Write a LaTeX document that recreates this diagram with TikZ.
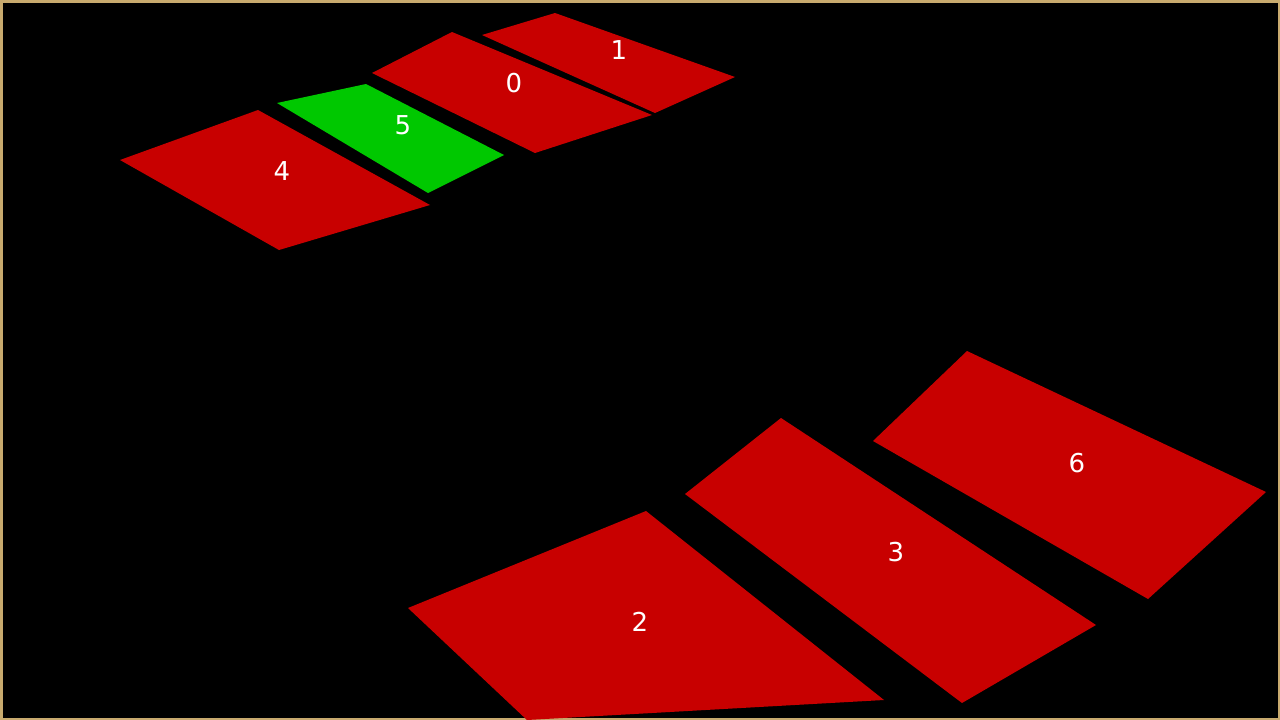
\documentclass[tikz,border=0pt]{standalone}
\usepackage{fontspec}
\setmainfont{DejaVu Sans}
\definecolor{pred}{RGB}{200,0,0}
\definecolor{pgreen}{RGB}{0,200,0}
\definecolor{frame}{RGB}{200,170,110}
\begin{document}
\begin{tikzpicture}[x=1pt,y=-1pt,
  red/.style={fill=pred,draw=none},
  grn/.style={fill=pgreen,draw=none},
  lab/.style={text=white,font=\fontsize{26}{26}\selectfont}]
\fill[black] (0,0) rectangle (1280,720);
\useasboundingbox (0,0) rectangle (1280,720);
\draw[frame,line width=3pt] (1,1) rectangle (1279,719);
\fill[red] (482,35) -- (555,13) -- (735,77) -- (655,113) -- cycle;
\fill[red] (372,73) -- (452,32) -- (652,115) -- (535,153) -- cycle;
\fill[grn] (277,103) -- (366,84) -- (504,155) -- (428,193) -- cycle;
\fill[red] (120,160) -- (258,110) -- (430,205) -- (279,250) -- cycle;
\fill[red] (408,608) -- (646,511) -- (884,700) -- (527,720) -- cycle;
\fill[red] (685,494) -- (781,418) -- (1096,625) -- (962,703) -- cycle;
\fill[red] (873,441) -- (967,351) -- (1266,492) -- (1148,599) -- cycle;
\node[lab] (n1) at (619,50) {1};
\node[lab] (n0) at (514,83) {0};
\node[lab] (n5) at (403,125) {5};
\node[lab] (n4) at (282,171) {4};
\node[lab] (n2) at (640,622) {2};
\node[lab] (n3) at (896,552) {3};
\node[lab] (n6) at (1077,463) {6};
\end{tikzpicture}
\end{document}
